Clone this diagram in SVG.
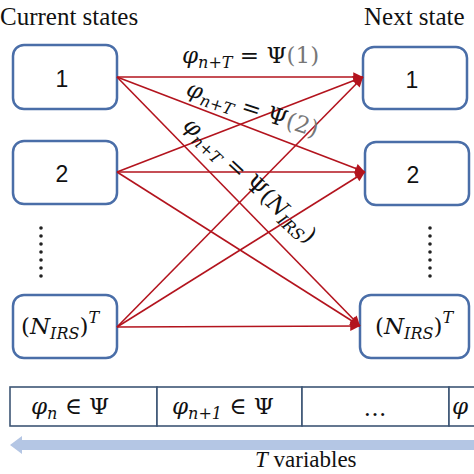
<svg xmlns="http://www.w3.org/2000/svg" width="474" height="474" viewBox="0 0 474 474">
<style>
.box{fill:#fff;stroke:#4a6ea8;stroke-width:2.5}
.num{font-family:"Liberation Sans",sans-serif;font-size:23px;fill:#111;text-anchor:middle}
.math{font-family:"DejaVu Serif","Liberation Serif",serif;font-size:23px;fill:#111}
.it{font-style:italic}
.sub{font-size:16px;font-style:italic}
.hdr{font-family:"Liberation Serif",serif;font-size:25px;fill:#111}
.con{stroke:#b3141e;stroke-width:1.6;fill:none;marker-end:url(#ah)}
.cell{fill:#fff;stroke:#3e5675;stroke-width:1.6}
.dot{fill:#222}
.gray{fill:#777}
</style>
<defs>
<marker id="ah" viewBox="0 0 10 10" refX="10" refY="5" markerWidth="7" markerHeight="7" markerUnits="userSpaceOnUse" orient="auto" overflow="visible">
<path d="M0,0 L10,5 L0,10 z" fill="#b3141e" transform="scale(1.4) translate(-2.8,-1.4)"/>
</marker>
</defs>
<rect width="474" height="474" fill="#fff"/>
<text class="hdr" x="0" y="25">Current states</text>
<text class="hdr" x="364" y="25">Next state</text>

<g id="L1"><rect class="box" x="13" y="45" width="104" height="64" rx="11"/><text class="num" x="62" y="87">1</text></g>
<g id="L2"><rect class="box" x="13" y="141" width="104" height="63" rx="11"/><text class="num" x="62" y="182">2</text></g>
<g id="L3"><rect class="box" x="13" y="295" width="104" height="63" rx="11"/><text class="math" x="21" y="334"><tspan>(</tspan><tspan class="it">N</tspan><tspan class="sub" dy="5">IRS</tspan><tspan dy="-5">)</tspan><tspan class="sub" dy="-11">T</tspan></text></g>
<g id="Ldots"><circle class="dot" cx="41" cy="228" r="1.8"/><circle class="dot" cx="41" cy="236" r="1.8"/><circle class="dot" cx="41" cy="244" r="1.8"/><circle class="dot" cx="41" cy="252" r="1.8"/><circle class="dot" cx="41" cy="260" r="1.8"/><circle class="dot" cx="41" cy="268" r="1.8"/><circle class="dot" cx="41" cy="276" r="1.8"/></g>

<g id="R1"><rect class="box" x="363" y="47" width="104" height="62" rx="11"/><text class="num" x="412" y="88">1</text></g>
<g id="R2"><rect class="box" x="365" y="142" width="104" height="63" rx="11"/><text class="num" x="413" y="183">2</text></g>
<g id="R3"><rect class="box" x="360" y="295" width="109" height="63" rx="11"/><text class="math" x="375" y="334"><tspan>(</tspan><tspan class="it">N</tspan><tspan class="sub" dy="5">IRS</tspan><tspan dy="-5">)</tspan><tspan class="sub" dy="-11">T</tspan></text></g>
<g id="Rdots"><circle class="dot" cx="430" cy="228" r="1.8"/><circle class="dot" cx="430" cy="236" r="1.8"/><circle class="dot" cx="430" cy="244" r="1.8"/><circle class="dot" cx="430" cy="252" r="1.8"/><circle class="dot" cx="430" cy="260" r="1.8"/><circle class="dot" cx="430" cy="268" r="1.8"/><circle class="dot" cx="430" cy="276" r="1.8"/></g>

<g id="connectors">
<line class="con" x1="117" y1="77" x2="363" y2="77"/>
<line class="con" x1="117" y1="77" x2="365" y2="172"/>
<line class="con" x1="117" y1="77" x2="360" y2="326"/>
<line class="con" x1="117" y1="172" x2="363" y2="77"/>
<line class="con" x1="117" y1="172" x2="365" y2="172"/>
<line class="con" x1="117" y1="172" x2="360" y2="326"/>
<line class="con" x1="117" y1="327" x2="363" y2="77"/>
<line class="con" x1="117" y1="327" x2="365" y2="172"/>
<line class="con" x1="117" y1="327" x2="360" y2="326"/>
</g>

<g id="labels">
<text class="math" x="182" y="63"><tspan class="it">φ</tspan><tspan class="sub" dy="5">n+T</tspan><tspan dy="-5"> = Ψ</tspan><tspan class="gray">(1)</tspan></text>
<text class="math" transform="translate(185,95) rotate(18)"><tspan class="it">φ</tspan><tspan class="sub" dy="5">n+T</tspan><tspan dy="-5"> = Ψ</tspan><tspan class="gray">(2)</tspan></text>
<text class="math" transform="translate(182,127) rotate(43)"><tspan class="it">φ</tspan><tspan class="sub" dy="5">n+T</tspan><tspan dy="-5"> = Ψ(</tspan><tspan class="it">N</tspan><tspan class="sub" dy="5">IRS</tspan><tspan dy="-5">)</tspan></text>
</g>

<g id="table">
<rect class="cell" x="10" y="387" width="147" height="39"/>
<rect class="cell" x="157" y="387" width="145" height="39"/>
<rect class="cell" x="302" y="387" width="147" height="39"/>
<rect class="cell" x="449" y="387" width="40" height="39"/>
<text class="math" x="31" y="414"><tspan class="it">φ</tspan><tspan class="sub" dy="5">n</tspan><tspan dy="-5"> ∈ Ψ</tspan></text>
<text class="math" x="172" y="414"><tspan class="it">φ</tspan><tspan class="sub" dy="5">n+1</tspan><tspan dy="-5"> ∈ Ψ</tspan></text>
<text class="math" x="375" y="416" text-anchor="middle">…</text>
<text class="math" x="452" y="414"><tspan class="it">φ</tspan></text>
</g>

<g id="Tarrow">
<rect x="20" y="440" width="454" height="10" fill="#b4c6e4"/>
<polygon points="10,445 22,436 22,454" fill="#b4c6e4"/>
<text class="hdr" x="255" y="467" style="font-size:23px"><tspan class="it">T</tspan> variables</text>
</g>
</svg>
